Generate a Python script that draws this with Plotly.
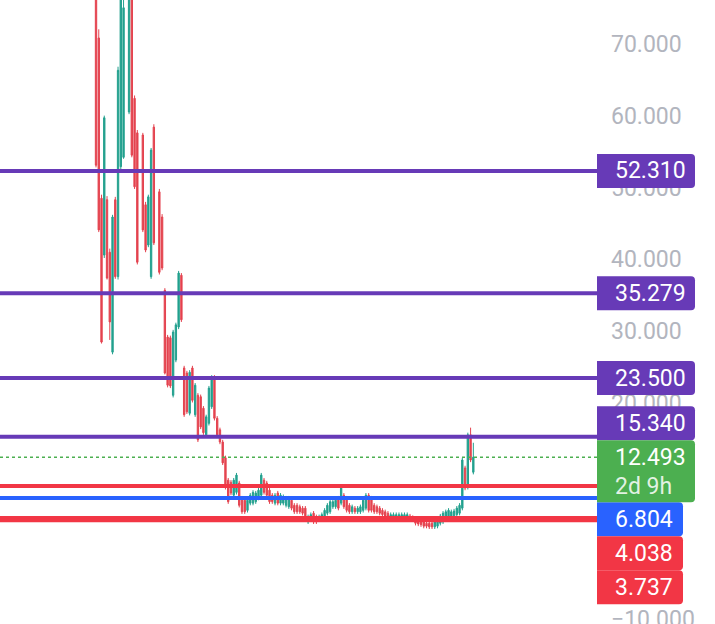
import plotly.graph_objects as go

# ---------------- data ----------------
days = [0, 1, 2, 3, 4, 5, 6, 7, 8, 9, 10,
        12, 13, 14, 15,
        17, 18, 19, 20, 21,
        23, 24, 25, 26, 27, 28, 29, 30, 31, 32, 33, 34, 35, 36, 37, 38, 39, 40,
        41, 42, 43, 44, 45, 46, 47, 48, 49, 50, 51, 52, 53, 54, 55, 56, 57, 58,
        59, 60, 61, 62, 63, 64, 65, 66, 67, 68, 69, 70, 71, 72, 73, 74, 75, 76,
        77, 78, 79, 80, 81, 82, 83, 84, 85, 86, 87, 88, 89, 90, 91, 92, 93, 94,
        95, 96, 97, 98, 99, 100, 101, 102, 103, 104, 105, 106, 107, 108, 109,
        110, 111, 112, 113, 114, 115, 116, 117, 118, 119, 120, 121, 122, 123,
        124, 125, 126, 127, 128, 129, 130, 131, 132, 133, 134, 135, 136, 137]

opens = [79.0, 70.8, 48.5, 40.6, 48.3, 41.0, 27.1, 48.3, 37.6, 52.9, 54.2,
         60.5, 80.0, 62.4, 57.6,
         57.3, 47.6, 42.0, 37.6, 58.4,
         49.4, 45.9, 35.7, 29.2, 29.1, 21.1, 26.0, 30.6, 37.8, 24.9, 24.2, 18.6,
         24.9, 18.4, 21.1, 20.9, 19.3, 15.6, 17.2, 19.5, 23.6, 17.9, 16.3, 14.6,
         12.4, 9.3, 9.0, 7.2, 7.6, 8.9, 6.8, 6.5, 5.1, 6.1, 6.1, 6.3, 6.8, 7.2,
         9.3, 8.9, 7.9, 7.2, 6.1, 7.5, 6.1, 6.1, 5.8, 5.6, 6.5, 5.8, 5.8, 5.6,
         5.4, 5.4, 3.5, 3.8, 4.7, 4.2, 3.8, 3.8, 4.2, 4.7, 4.9, 5.6, 5.6, 6.8,
         6.1, 7.2, 6.8, 5.8, 4.9, 5.4, 4.9, 4.9, 5.1, 5.4, 7.2, 6.8, 5.8, 5.6,
         5.4, 5.1, 4.9, 4.7, 3.8, 4.0, 4.0, 4.2, 4.2, 4.0, 4.0, 4.3, 4.1, 3.8,
         3.6, 3.5, 3.5, 3.3, 3.3, 3.3, 2.8, 2.9, 3.3, 3.5, 3.8, 4.0, 4.2, 4.2,
         4.5, 4.7, 5.4, 11.0, 8.3, 15.6, 10.4]

highs = [80.0, 72.0, 49.0, 60.0, 48.8, 41.5, 46.2, 48.7, 66.8, 80.0, 78.0,
         82.0, 82.0, 62.8, 58.0,
         57.6, 48.0, 49.0, 55.5, 58.8,
         49.8, 46.3, 36.0, 29.5, 29.4, 30.2, 31.2, 38.4, 38.1, 25.2, 24.5, 24.6,
         25.2, 22.8, 21.4, 21.2, 19.6, 18.4, 22.4, 23.9, 23.9, 18.2, 16.6, 14.9,
         12.7, 9.6, 9.3, 9.6, 10.3, 9.2, 7.1, 6.8, 6.8, 7.5, 7.9, 7.8, 8.2, 10.3,
         9.6, 9.2, 8.2, 7.5, 7.5, 7.8, 7.5, 7.3, 7.1, 7.1, 6.8, 6.1, 6.1, 5.9,
         5.7, 5.7, 4.5, 4.8, 5.0, 4.5, 4.5, 4.8, 5.4, 6.1, 6.6, 6.6, 6.8, 7.1,
         8.5, 7.5, 7.1, 6.1, 5.9, 5.7, 5.7, 5.9, 6.8, 7.5, 7.5, 7.1, 6.1, 5.9,
         5.7, 5.4, 5.2, 5.0, 4.8, 4.8, 4.8, 4.8, 4.8, 4.8, 4.8, 4.6, 4.4, 4.1,
         3.9, 3.8, 3.8, 3.6, 3.6, 3.6, 3.8, 4.1, 4.6, 5.0, 5.2, 5.4, 5.2, 5.3,
         5.7, 6.1, 12.4, 11.3, 15.9, 16.6, 14.5]

lows = [52.8, 43.8, 28.3, 40.2, 37.2, 28.8, 26.8, 37.3, 37.2, 52.5, 54.0,
        60.2, 54.2, 49.8, 39.3,
        43.8, 41.0, 41.7, 37.3, 42.0,
        37.9, 38.5, 24.0, 22.2, 22.1, 20.8, 25.7, 30.3, 31.3, 18.1, 18.5, 18.3,
        20.1, 18.1, 14.6, 16.4, 15.6, 15.3, 16.9, 19.2, 17.6, 15.3, 14.3, 11.4,
        8.0, 6.0, 7.2, 6.9, 7.3, 5.5, 4.6, 4.6, 4.8, 5.8, 5.8, 6.0, 6.5, 6.9,
        7.3, 6.9, 6.0, 6.0, 5.8, 5.8, 5.8, 5.8, 5.5, 5.3, 5.1, 4.6, 4.6, 4.6,
        4.4, 3.5, 3.2, 3.5, 3.2, 3.2, 3.5, 3.5, 3.9, 4.4, 4.6, 5.3, 5.3, 5.1,
        5.8, 5.3, 4.8, 4.6, 4.6, 4.6, 4.6, 4.6, 4.8, 5.1, 4.8, 4.8, 4.6, 4.6,
        4.4, 4.2, 3.9, 3.9, 3.5, 3.7, 3.7, 3.9, 3.9, 3.7, 3.7, 3.7, 3.6, 3.0,
        2.9, 2.8, 2.6, 2.6, 2.5, 2.5, 2.5, 2.6, 3.0, 3.2, 3.5, 3.7, 3.9, 3.9,
        4.2, 4.4, 5.1, 7.9, 8.0, 11.8, 10.1]

closes = [53.1, 44.1, 28.5, 59.7, 37.4, 31.3, 45.9, 37.6, 66.3, 79.0, 75.0,
          80.0, 54.5, 50.1, 39.6,
          44.1, 41.3, 48.7, 55.2, 42.3,
          38.2, 38.8, 24.2, 22.5, 22.4, 29.9, 30.9, 38.1, 31.6, 18.4, 18.8, 24.3,
          20.4, 22.5, 14.9, 16.7, 15.9, 18.1, 22.1, 23.6, 17.9, 15.6, 14.6, 11.7,
          8.3, 6.3, 7.5, 9.3, 10.0, 5.8, 4.9, 4.9, 6.5, 7.2, 7.6, 7.5, 7.9, 10.0,
          7.6, 7.2, 6.3, 6.3, 7.2, 6.1, 7.2, 7.0, 6.8, 6.8, 5.4, 4.9, 4.9, 4.9,
          4.7, 3.8, 4.2, 4.5, 3.5, 3.5, 4.2, 4.5, 5.1, 5.8, 6.3, 6.3, 6.5, 5.4,
          8.2, 5.6, 5.1, 4.9, 5.6, 4.9, 5.4, 5.6, 6.5, 7.2, 5.1, 5.1, 4.9, 4.9,
          4.7, 4.5, 4.2, 4.2, 4.5, 4.5, 4.5, 4.5, 4.5, 4.5, 4.5, 3.9, 3.8, 3.3,
          3.2, 3.1, 2.9, 2.9, 2.8, 2.8, 3.5, 3.8, 4.3, 4.7, 4.9, 5.1, 4.9, 5.0,
          5.4, 5.8, 12.1, 8.2, 15.6, 12.1, 12.493]

level_values = [52.310, 35.279, 23.500, 15.340, 8.48, 6.804, 4.038, 3.737]
level_colors = ["#673ab7", "#673ab7", "#673ab7", "#673ab7",
                "#f23645", "#2962ff", "#f23645", "#f23645"]
level_labels = ["52.310", "35.279", "23.500", "15.340", "", "6.804", "4.038", "3.737"]

last_price = 12.493
last_label = "12.493"
countdown_label = "2d 9h"

tick_values = [70, 60, 50, 40, 30, 20, 10, 0, -10]
tick_labels = ["70.000", "60.000", "50.000", "40.000", "30.000", "20.000",
               "10.000", "0.000", "\u221210.000"]

# ---------------- layout geometry ----------------
W, H = 715, 624
R_MARGIN = 118
PLOT_W = W - R_MARGIN
Y_MIN, Y_MAX = -10.71, 76.08
X_MIN, X_MAX = -34.86, 181.9
PX_PER_UNIT = H / (Y_MAX - Y_MIN)

UP = "#22a08e"
DOWN = "#e4434f"
GREEN_LABEL = "#4caf50"


def to_px(v):
    return (Y_MAX - v) * PX_PER_UNIT


def to_val(px):
    return Y_MAX - px / PX_PER_UNIT


fig = go.Figure()
fig.add_trace(go.Candlestick(
    x=days, open=opens, high=highs, low=lows, close=closes,
    increasing=dict(line=dict(color=UP, width=1), fillcolor=UP),
    decreasing=dict(line=dict(color=DOWN, width=1), fillcolor=DOWN),
    whiskerwidth=0, hoverinfo="skip", showlegend=False,
))

shapes = []
annotations = []

# horizontal level lines
for v, c in zip(level_values, level_colors):
    shapes.append(dict(type="line", xref="paper", yref="y", x0=0, x1=1,
                       y0=v, y1=v, line=dict(color=c, width=4), layer="above"))

# last price dotted line
shapes.append(dict(type="line", xref="paper", yref="y", x0=0, x1=1,
                   y0=last_price, y1=last_price,
                   line=dict(color=GREEN_LABEL, width=1.5, dash="dot"), layer="above"))

# ---------------- price labels on the axis ----------------
BOX_H = 34
GREEN_H = 62
RADIUS = 4


def box_path(top_px, bot_px, width_px):
    x0 = 1.0
    x1 = (PLOT_W + width_px) / PLOT_W
    rx = RADIUS / PLOT_W
    yt, yb = to_val(top_px), to_val(bot_px)
    ry = RADIUS / PX_PER_UNIT
    return (f"M {x0},{yt} L {x1 - rx},{yt} Q {x1},{yt} {x1},{yt - ry} "
            f"L {x1},{yb + ry} Q {x1},{yb} {x1 - rx},{yb} L {x0},{yb} Z")


def label_width(text):
    digits = sum(ch.isdigit() for ch in text)
    return 38 + 12 * digits


TEXT_X = (PLOT_W + 16) / PLOT_W
FONT = "Roboto, 'Noto Sans', sans-serif"

green_top = to_px(last_price) - BOX_H / 2
green_bot = green_top + GREEN_H
boxes = []
above = sorted([(v, c, t) for v, c, t in zip(level_values, level_colors, level_labels)
                if t and v > last_price], key=lambda a: a[0])
limit = green_top
for v, c, t in above:
    bot = min(to_px(v) + BOX_H / 2, limit)
    top = bot - BOX_H
    limit = top
    boxes.append((top, bot, c, t))
below = sorted([(v, c, t) for v, c, t in zip(level_values, level_colors, level_labels)
                if t and v < last_price], key=lambda a: -a[0])
limit = green_bot
for v, c, t in below:
    top = max(to_px(v) - BOX_H / 2, limit)
    bot = top + BOX_H
    limit = bot
    boxes.append((top, bot, c, t))

for top, bot, c, t in boxes:
    shapes.append(dict(type="path", xref="paper", yref="y",
                       path=box_path(top, bot, label_width(t)),
                       fillcolor=c, line=dict(width=0), layer="above"))
    annotations.append(dict(xref="paper", yref="y", x=TEXT_X, y=to_val((top + bot) / 2),
                            xanchor="left", yanchor="middle", showarrow=False,
                            text=t, font=dict(family=FONT, size=23, color="white")))

shapes.append(dict(type="path", xref="paper", yref="y",
                   path=box_path(green_top, green_bot, label_width(last_label)),
                   fillcolor=GREEN_LABEL, line=dict(width=0), layer="above"))
annotations.append(dict(xref="paper", yref="y", x=TEXT_X, y=to_val(green_top + 17),
                        xanchor="left", yanchor="middle", showarrow=False,
                        text=last_label, font=dict(family=FONT, size=23, color="white")))
annotations.append(dict(xref="paper", yref="y", x=TEXT_X, y=to_val(green_top + 46),
                        xanchor="left", yanchor="middle", showarrow=False,
                        text=countdown_label,
                        font=dict(family=FONT, size=23, color="rgba(255,255,255,0.85)")))

fig.update_layout(
    width=W, height=H,
    margin=dict(l=0, r=R_MARGIN, t=0, b=0, autoexpand=False),
    paper_bgcolor="white", plot_bgcolor="white",
    showlegend=False,
    shapes=shapes, annotations=annotations,
    xaxis=dict(range=[X_MIN, X_MAX], visible=False, rangeslider=dict(visible=False),
               showgrid=False, fixedrange=True, automargin=False),
    yaxis=dict(range=[Y_MIN, Y_MAX], side="right", showgrid=False, zeroline=False,
               showline=False, ticks="", tickvals=tick_values, ticktext=tick_labels,
               ticklabelstandoff=13, ticklabeloverflow="allow", automargin=False,
               tickfont=dict(family=FONT, size=23, color="#b2b5be"), fixedrange=True),
)

fig.write_html("out.html", config={"displayModeBar": False},
               post_script="document.body.style.margin='0';document.body.style.overflow='hidden';")
